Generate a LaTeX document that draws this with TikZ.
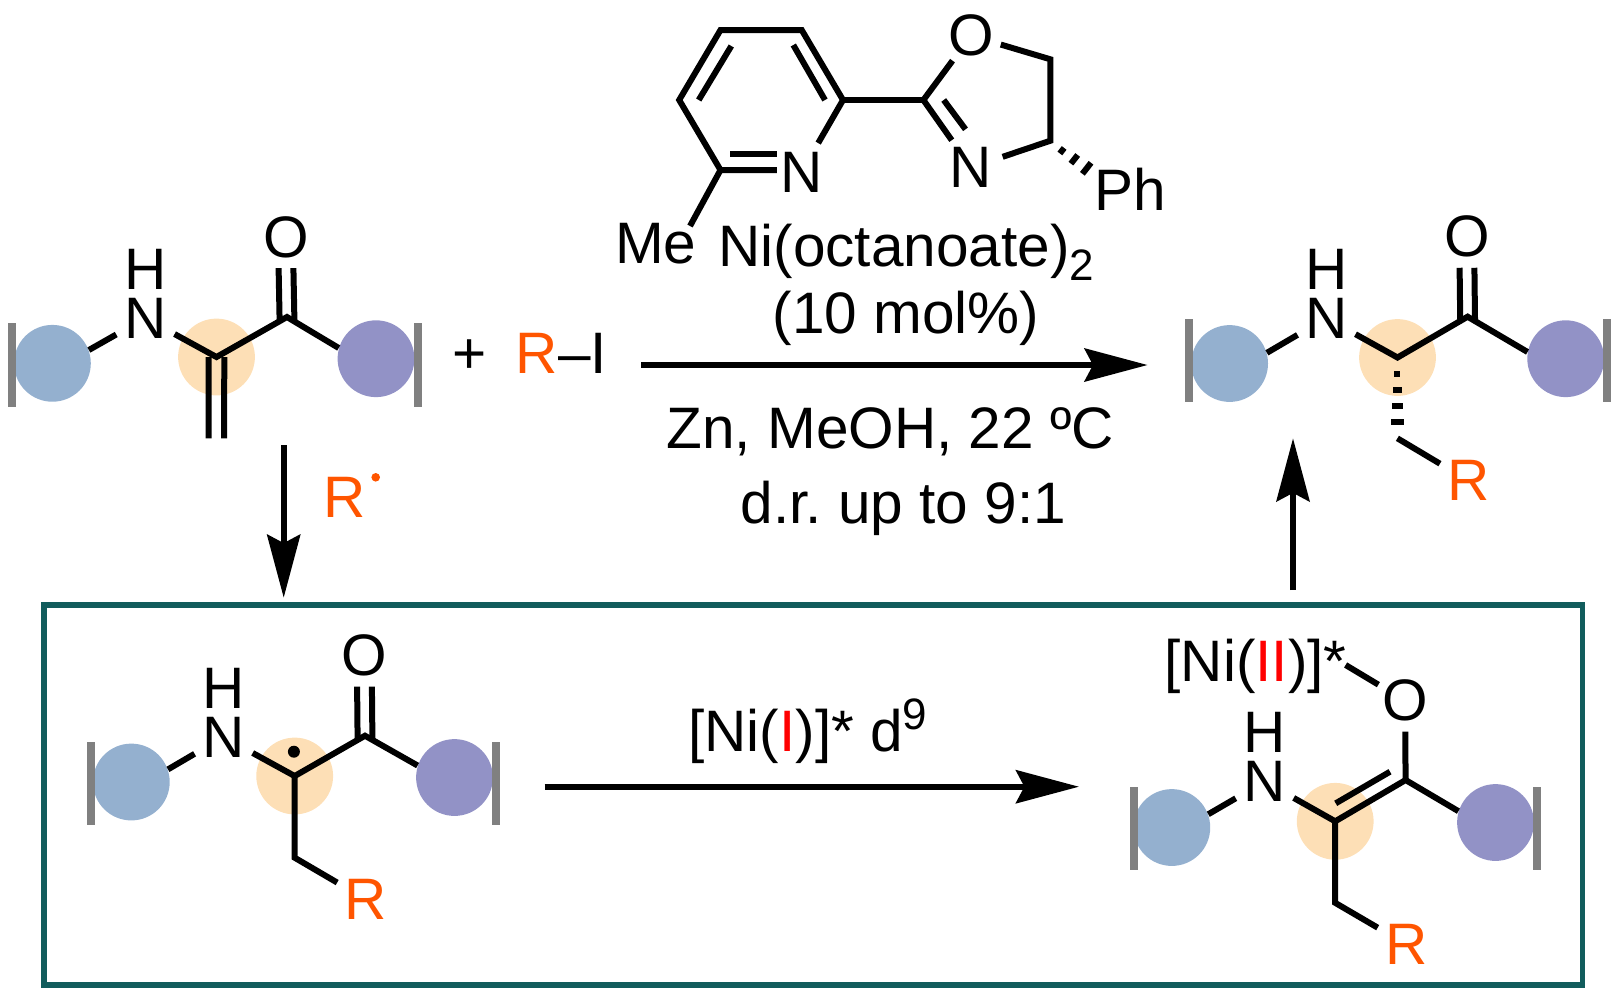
\documentclass[tikz,border=0pt]{standalone}
\usepackage{fontspec}
\setmainfont{Liberation Sans}
\usetikzlibrary{arrows.meta}
\definecolor{bluedot}{HTML}{94B0CF}
\definecolor{peachdot}{HTML}{FDDFB6}
\definecolor{purpledot}{HTML}{9292C6}
\definecolor{tethergray}{HTML}{808080}
\definecolor{boxteal}{HTML}{115C5C}
\definecolor{rgroup}{HTML}{FF5500}
\newcommand{\chemfont}{\fontsize{29.25}{34}\selectfont\frenchspacing}
\newcommand{\smallchem}{\fontsize{22}{26}\selectfont}
\tikzset{
  atom/.style={circle,inner sep=0,minimum size=33pt,font=\chemfont},
  oatom/.style={atom,minimum size=30pt},
  hatom/.style={inner sep=0,font=\chemfont},
  lbl/.style={inner sep=0,anchor=base west,font=\chemfont},
  clbl/.style={inner sep=0,anchor=base,font=\chemfont},
  bubble/.style={circle,inner sep=0,minimum size=38.4pt},
  tether/.style={rectangle,inner sep=0,fill=tethergray,minimum width=4pt,minimum height=41.7pt},
  hashmark/.style={rectangle,inner sep=0,fill=black,minimum height=3pt},
  bond/.style={line width=3pt},
  rxnarrow/.style={line width=3pt,-{Stealth[length=31.5pt,width=16.5pt,inset=4.2pt]}}
}
\begin{document}
\begin{tikzpicture}[x=0.5pt,y=-0.5pt]
  \useasboundingbox (0,0) rectangle (1620,998);
  \draw[boxteal,line width=2.75pt] (44.2,605) rectangle (1582.7,985);
  \foreach \nm/\x/\y in {b1/52.4/363.3,b2/131.3/782,b3/1171.8/827.5,b4/1229.6/363.5}{
    \node [bubble,fill=bluedot] (\nm) at (\x,\y) {};
  }
  \foreach \nm/\x/\y in {or1/216.5/357,or2/294.7/776,or3/1335.2/821.3,or4/1397.5/357.5}{
    \node [bubble,fill=peachdot] (\nm) at (\x,\y) {};
  }
  \foreach \nm/\x/\y in {pu1/376/358.7,pu2/454.5/777.5,pu3/1495.5/822.5,pu4/1565.7/358.7}{
    \node [bubble,fill=purpledot] (\nm) at (\x,\y) {};
  }
  \foreach \nm/\x/\y in {tl1/11.8/365,tr1/417.5/365,tl2/90.5/783.7,tr2/496/783.7,tl3/1134.2/828.3,tr3/1536.7/828.3,tl4/1188.8/360.5,tr4/1606.5/360.5}{
    \node [tether] (\nm) at (\x,\y) {};
  }
  \foreach \i/\x/\y in {1/145.3/318,2/223.4/736.9,3/1264.6/781.5,4/1326.3/318}{
    \node [atom] (n\i) at (\x,\y) {N};
    \node [hatom] (h\i) at (\x,\y-49) {H};
  }
  \foreach \i/\x/\y/\cx/\cy in {1/286/237/287/317,2/364.5/655.6/365/735.7,3/1405/700.6/1405.6/780,4/1467/236.7/1467.6/316.7}{
    \node [oatom] (o\i) at (\x,\y) {O};
    \coordinate (c\i) at (\cx,\cy);
  }
  \foreach \i/\ab/\ap in {1/20/164,2/19/162,3/20/163,4/16/170}{
    \draw[bond] (n\i) -- (b\i.\ab);
    \draw[bond] (n\i) -- (or\i.center) -- (c\i) -- (pu\i.\ap);
  }
  \foreach \i in {1,2,4}{
    \draw[bond] ([xshift=-3.7pt]o\i.south) -- ([xshift=-3.7pt,yshift=-1.5pt]c\i);
    \draw[bond] ([xshift=3.7pt]o\i.south) -- ([xshift=3.7pt,yshift=-1.5pt]c\i);
  }
  \foreach \i/\x/\y/\rx/\ry in {2/294.7/857.7/366/899.4,3/1335/902.7/1406.5/944.5}{
    \coordinate (ch\i) at (\x,\y);
    \node [atom,text=rgroup] (r\i) at (\rx,\ry) {R};
    \draw[bond] (or\i.center) -- (ch\i) -- (r\i);
  }
  \coordinate (ch1) at (216.3,438.3);
  \draw[bond] ([xshift=-3.9pt]or1.center) -- ([xshift=-3.9pt]ch1);
  \draw[bond] ([xshift=3.9pt]or1.center) -- ([xshift=3.9pt]ch1);
  \node [circle,fill=black,inner sep=0,minimum size=6pt] (dot2) at (293.9,751.7) {};
  \coordinate (ene1) at (1335.7,803.3);
  \coordinate (ene2) at (1390,771.7);
  \draw[bond] (ene1) -- (ene2);
  \draw[bond] (o3) -- (c3);
  \node [lbl] (ni3) at (1164.3,681) {[Ni(\textcolor{red}{II})]*};
  \coordinate (star3) at (1345.6,665);
  \draw[bond] (o3) -- (star3);
  \foreach \i/\y/\w in {1/373.7/6,2/389.7/8.2,3/406.3/10.3,4/422/12.6}{
    \node [hashmark,minimum width={\w*0.5pt}] (hd\i) at (1397.4,\y) {};
  }
  \coordinate (ch4) at (1397.4,438.3);
  \node [atom,text=rgroup] (r4) at (1468.6,480.8) {R};
  \draw[bond] (ch4) -- (r4);
  \coordinate (py1) at (720.5,30);
  \coordinate (py2) at (801.7,30);
  \coordinate (py3) at (843,100);
  \coordinate (py5) at (720.5,170);
  \coordinate (py6) at (679.2,100);
  \coordinate (pyn) at (776.8,170);
  \node [atom] (npy) at (801.5,172) {N};
  \draw[bond] (npy) -- (py3) -- (py2) -- (py1) -- (py6) -- (py5) -- (pyn);
  \coordinate (in1) at (731.3,46);
  \coordinate (in2) at (698.7,100);
  \draw[bond] (in1) -- (in2);
  \coordinate (in3) at (793.3,45);
  \coordinate (in4) at (825,100);
  \draw[bond] (in3) -- (in4);
  \coordinate (in5) at (730,154);
  \coordinate (in6) at (776.8,154);
  \draw[bond] (in5) -- (in6);
  \node [lbl] (me) at (614.7,263.3) {Me};
  \coordinate (meend) at (690,226);
  \draw[bond] (py5) -- (meend);
  \coordinate (ox2) at (923.4,100);
  \coordinate (ox5) at (1050.4,59.3);
  \coordinate (ox4) at (1050.4,140.7);
  \node [oatom] (oox) at (971,35.7) {O};
  \node [atom] (nox) at (971,167.5) {N};
  \draw[bond] (py3) -- (ox2);
  \draw[bond] (oox) -- (ox2) -- (nox);
  \draw[bond] (oox) -- (ox5) -- (ox4) -- (nox);
  \coordinate (in7) at (943.7,100);
  \coordinate (in8) at (965.5,129.3);
  \draw[bond] (in7) -- (in8);
  \foreach \i/\x/\y/\w in {1/1062/150.7/7,2/1074.3/159.3/11,3/1086.7/168.3/14}{
    \node [hashmark,rotate=52,minimum width={\w*0.5pt}] (hp\i) at (\x,\y) {};
  }
  \node [lbl] (ph) at (1094,210.7) {Ph};
  \node [lbl] (nilig) at (718,266.7) {Ni(octanoate){\smallchem\raisebox{-6.7pt}{2}}};
  \node [clbl] (mol) at (906,333) {(10 mol\%)};
  \node [clbl] (plus) at (469.4,373.3) {+};
  \node [lbl] (ri) at (515.5,373.3) {\textcolor{rgroup}{R}–I};
  \node [lbl,text=rgroup] (rrad) at (322.7,517.3) {R};
  \node [circle,fill=rgroup,inner sep=0,minimum size=4.3pt] (raddot) at (375.7,477.3) {};
  \node [clbl] (zn) at (890.2,448.3) {Zn, MeOH, 22 ºC};
  \node [clbl] (dr) at (903.5,523.3) {d.r. up to 9:1};
  \node [lbl] (ni2) at (688,751) {[Ni(\textcolor{red}{I})]* d{\smallchem\raisebox{10.8pt}{9}}};
  \coordinate (a1) at (641,365);
  \coordinate (a2) at (1147.6,365);
  \draw[rxnarrow] (a1) -- (a2);
  \coordinate (a3) at (544.6,786.7);
  \coordinate (a4) at (1079,786.7);
  \draw[rxnarrow] (a3) -- (a4);
  \coordinate (a5) at (283.7,445.3);
  \coordinate (a6) at (283.7,597.7);
  \draw[rxnarrow] (a5) -- (a6);
  \coordinate (a7) at (1293,590);
  \coordinate (a8) at (1293,438.3);
  \draw[rxnarrow] (a7) -- (a8);
\end{tikzpicture}
\end{document}
